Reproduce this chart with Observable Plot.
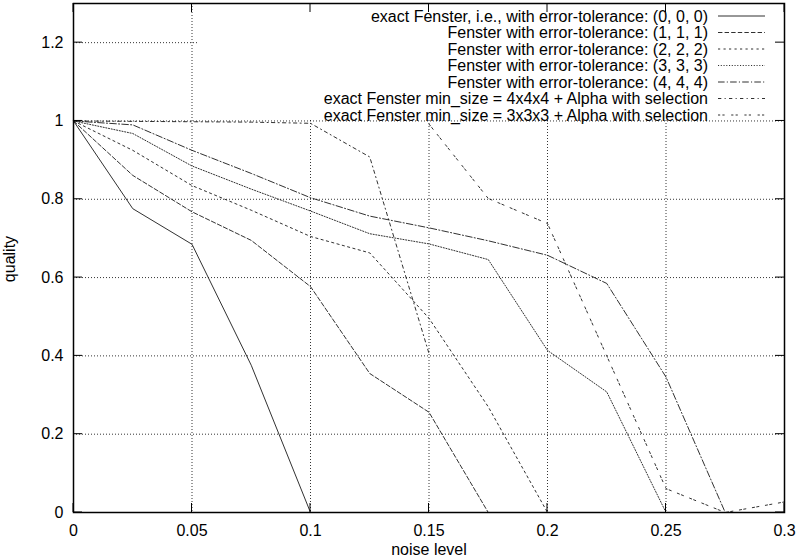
<!DOCTYPE html>
<html>
<head>
<meta charset="utf-8">
<script src="https://cdn.jsdelivr.net/npm/d3@7"></script>
<script src="https://cdn.jsdelivr.net/npm/@observablehq/plot@0.6"></script>
<style>
  html, body { margin: 0; padding: 0; background: #fff; }
  #chart svg { display: block; font-family: "Liberation Sans", Arial, Helvetica, sans-serif; }
</style>
</head>
<body>
<div id="chart"></div>
<script>
// ---- data ----
const noise = [0, 0.025, 0.05, 0.075, 0.1, 0.125, 0.15, 0.175, 0.2, 0.225, 0.25, 0.275, 0.3];

const tol0   = [1, 0.776, 0.685, 0.376, 0];
const tol1   = [1, 0.861, 0.768, 0.695, 0.577, 0.355, 0.256, 0];
const tol2   = [1, 0.925, 0.835, 0.772, 0.705, 0.663, 0.496, 0.27, 0];
const tol3   = [1, 0.968, 0.885, 0.826, 0.77, 0.712, 0.686, 0.646, 0.414, 0.308, 0];
const tol4   = [1, 0.99, 0.925, 0.866, 0.804, 0.757, 0.727, 0.694, 0.657, 0.585, 0.346, 0];
const alpha4 = [1, 0.999, 0.998, 0.997, 0.994, 0.908, 0.406];
const alpha3 = [0.992, 0.802, 0.738, 0.40, 0.061, 0, 0.027]; // starts at noise level 0.15
const alpha3Start = 6;

const seriesNames = [
  "exact Fenster, i.e., with error-tolerance: (0, 0, 0)",
  "Fenster with error-tolerance: (1, 1, 1)",
  "Fenster with error-tolerance: (2, 2, 2)",
  "Fenster with error-tolerance: (3, 3, 3)",
  "Fenster with error-tolerance: (4, 4, 4)",
  "exact Fenster min_size = 4x4x4 + Alpha with selection",
  "exact Fenster min_size = 3x3x3 + Alpha with selection"
];
const seriesValues = [tol0, tol1, tol2, tol3, tol4, alpha4, alpha3];
const seriesStart  = [0, 0, 0, 0, 0, 0, alpha3Start];

const xTicks = [0, 0.05, 0.1, 0.15, 0.2, 0.25, 0.3];
const xTickLabels = ["0", "0.05", "0.1", "0.15", "0.2", "0.25", "0.3"];
const yTicks = [0, 0.2, 0.4, 0.6, 0.8, 1, 1.2];
const yTickLabels = ["0", "0.2", "0.4", "0.6", "0.8", "1", "1.2"];

// ---- styles ----
const dk = 1.1;
const dashPatterns = [
  null,
  [4, 2],
  [2, 3],
  [1, 1.5],
  [6, 2, 1, 2],
  [3, 3, 1, 3],
  [2, 2, 2, 6]
].map(p => p ? p.map(v => v * dk).join(",") : null);

const rows = [];
seriesValues.forEach((vals, s) => {
  vals.forEach((v, i) => rows.push({series: s, x: noise[seriesStart[s] + i], y: v}));
});

const W = 799, H = 560;
const FONT = 16;
const INK = "#1a1a1a";

const lineMarks = seriesNames.map((name, s) =>
  Plot.line(rows.filter(d => d.series === s), {
    x: "x", y: "y",
    stroke: INK, strokeWidth: 0.9,
    strokeDasharray: dashPatterns[s] || undefined
  })
);

// legend box (opaque, like gnuplot's key)
function legendBox(index, scales, values, dims) {
  const g = d3.create("svg:g");
  g.append("rect")
    .attr("x", 197).attr("y", dims.marginTop + 1)
    .attr("width", dims.width - dims.marginRight - 197 - 1)
    .attr("height", 116)
    .attr("fill", "#fff");
  return g.node();
}

function legendContent(index, scales, values, dims) {
  const g = d3.create("svg:g")
    .attr("font-family", '"Liberation Sans", Arial, sans-serif')
    .attr("font-size", FONT);
  seriesNames.forEach((name, s) => {
    const y = 16 + 16.5 * s;
    g.append("text")
      .attr("x", 708).attr("y", y).attr("dy", "0.35em")
      .attr("text-anchor", "end").attr("fill", "#000")
      .text(name);
    const ln = g.append("line")
      .attr("x1", 718).attr("x2", 765).attr("y1", y).attr("y2", y)
      .attr("stroke", INK).attr("stroke-width", 0.9);
    if (dashPatterns[s]) ln.attr("stroke-dasharray", dashPatterns[s]);
  });
  return g.node();
}

// inward ticks on all four sides (mirror ticks)
function inwardTicks(index, {x, y}, values, dims) {
  const g = d3.create("svg:g").attr("stroke", "#000").attr("stroke-width", 1);
  const left = dims.marginLeft, right = dims.width - dims.marginRight;
  const top = dims.marginTop, bottom = dims.height - dims.marginBottom;
  const T = 9;
  xTicks.forEach(v => {
    const px = x(v);
    g.append("line").attr("x1", px).attr("x2", px).attr("y1", bottom).attr("y2", bottom - T);
    g.append("line").attr("x1", px).attr("x2", px).attr("y1", top).attr("y2", top + T);
  });
  yTicks.forEach(v => {
    const py = y(v);
    g.append("line").attr("x1", left).attr("x2", left + T).attr("y1", py).attr("y2", py);
    g.append("line").attr("x1", right).attr("x2", right - T).attr("y1", py).attr("y2", py);
  });
  return g.node();
}

function axisTitles(index, scales, values, dims) {
  const g = d3.create("svg:g")
    .attr("font-family", '"Liberation Sans", Arial, sans-serif')
    .attr("font-size", FONT).attr("fill", "#000");
  g.append("text").attr("x", 429).attr("y", 555).attr("text-anchor", "middle").text("noise level");
  g.append("text").attr("transform", "translate(15,259) rotate(-90)").attr("text-anchor", "middle").text("quality");
  return g.node();
}

const chart = Plot.plot({
  width: W, height: H,
  marginLeft: 73, marginRight: 15, marginTop: 3, marginBottom: 48,
  style: {fontFamily: '"Liberation Sans", Arial, sans-serif', fontSize: FONT + "px", background: "#fff", color: "#000"},
  x: {domain: [0, 0.3], label: null},
  y: {domain: [0, 1.3], label: null},
  marks: [
    Plot.gridX(xTicks.slice(1, -1), {stroke: "#000", strokeOpacity: 1, strokeWidth: 0.8, strokeDasharray: "1,2"}),
    Plot.gridY(yTicks.slice(1), {stroke: "#000", strokeOpacity: 1, strokeWidth: 0.8, strokeDasharray: "1,2"}),
    ...lineMarks,
    legendBox,
    Plot.frame({stroke: "#000", strokeWidth: 1.5}),
    inwardTicks,
    Plot.axisX(xTicks, {anchor: "bottom", tickSize: 0, tickPadding: 12, tickFormat: (d, i) => xTickLabels[i], fontSize: FONT, label: null}),
    Plot.axisY(yTicks, {anchor: "left", tickSize: 0, tickPadding: 10, tickFormat: (d, i) => yTickLabels[i], fontSize: FONT, label: null}),
    legendContent,
    axisTitles
  ]
});

document.getElementById("chart").appendChild(chart);
</script>
</body>
</html>
